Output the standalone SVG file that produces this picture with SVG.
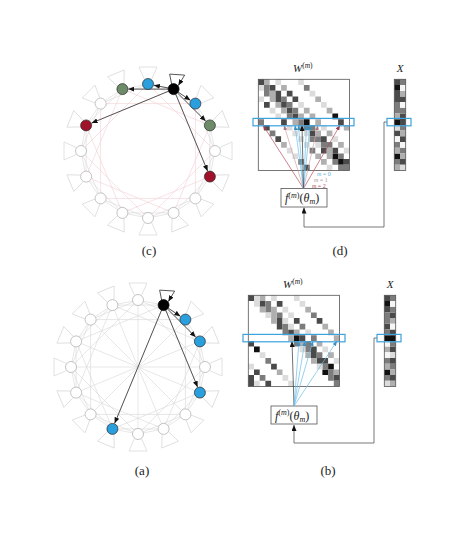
<svg xmlns="http://www.w3.org/2000/svg" width="474" height="540" viewBox="0 0 474 540">
<style>
.lt{fill:none;stroke:#dcdcdc;stroke-width:0.7}
.lp{fill:none;stroke:#f3d6d9;stroke-width:0.7}
.loop{fill:none;stroke:#d2d2d2;stroke-width:0.65;stroke-linejoin:round}
.ng{fill:#fff;stroke:#b5b5b5;stroke-width:0.8}
.nb{fill:#2a9fdd;stroke:#2a2a2a;stroke-width:0.7}
.nG{fill:#6d8a69;stroke:#2a2a2a;stroke-width:0.7}
.nr{fill:#a0122a;stroke:#2a2a2a;stroke-width:0.7}
.nk{fill:#000;stroke:#000;stroke-width:0.7}
.de{fill:none;stroke:#444;stroke-width:0.9;marker-end:url(#ah)}
.k0{fill:#111}.k1{fill:#4a4a4a}.k2{fill:#7c7c7c}.k3{fill:#afafaf}.k4{fill:#dcdcdc}.w{fill:#f6f6f6}
.box{fill:#fff;stroke:#555;stroke-width:0.8}
.mbox{fill:none;stroke:#555;stroke-width:0.8}
.hl{fill:none;stroke:#3aa2dc;stroke-width:1.2}
.cn{fill:none;stroke:#555;stroke-width:0.8;marker-end:url(#ah)}
.fr{fill:none;stroke:#b5505e;stroke-width:0.7;marker-end:url(#ahr)}
.fp{fill:none;stroke:#cfa3a8;stroke-width:0.7;marker-end:url(#ahp)}
.fb{fill:none;stroke:#6cbde6;stroke-width:0.7;marker-end:url(#ahb)}
.fk{fill:none;stroke:#333;stroke-width:0.7;marker-end:url(#ah)}
.t{font-family:"Liberation Serif",serif;fill:#222}
.i{font-style:italic}
</style>
<defs>
<marker id="ah" markerUnits="userSpaceOnUse" markerWidth="6" markerHeight="5" refX="6" refY="2.5" orient="auto"><path d="M0,0 L6,2.5 L0,5 z" fill="#111"/></marker>
<marker id="ahr" markerUnits="userSpaceOnUse" markerWidth="5" markerHeight="4" refX="5" refY="2" orient="auto"><path d="M0,0 L5,2 L0,4 z" fill="#a03a48"/></marker>
<marker id="ahp" markerUnits="userSpaceOnUse" markerWidth="5" markerHeight="4" refX="5" refY="2" orient="auto"><path d="M0,0 L5,2 L0,4 z" fill="#b07880"/></marker>
<marker id="ahb" markerUnits="userSpaceOnUse" markerWidth="5" markerHeight="4" refX="5" refY="2" orient="auto"><path d="M0,0 L5,2 L0,4 z" fill="#3a90c0"/></marker>
<path id="lp0" d="M-3.5,-4.5 L-9,-17 L9,-17 L3.5,-4.5"/>
</defs>
<rect width="474" height="540" fill="#fff"/>

<!-- ===== Graph (c) ===== -->
<g id="graph-c" transform="translate(148,151)">
 <g id="c-connectors">
  <polygon class="lt" points="0,-67 25.6,-61.9 47.4,-47.4 61.9,-25.6 67,0 61.9,25.6 47.4,47.4 25.6,61.9 0,67 -25.6,61.9 -47.4,47.4 -61.9,25.6 -67,0 -61.9,-25.6 -47.4,-47.4 -25.6,-61.9"/>
  <polygon class="lt" points="0,-67 47.4,-47.4 67,0 47.4,47.4 0,67 -47.4,47.4 -67,0 -47.4,-47.4"/>
  <polygon class="lt" points="25.6,-61.9 61.9,-25.6 61.9,25.6 25.6,61.9 -25.6,61.9 -61.9,25.6 -61.9,-25.6 -25.6,-61.9"/>
  <polygon class="lp" points="0,-67 67,0 0,67 -67,0"/>
  <polygon class="lp" points="25.6,-61.9 61.9,25.6 -25.6,61.9 -61.9,-25.6"/>
  <polygon class="lp" points="47.4,-47.4 47.4,47.4 -47.4,47.4 -47.4,-47.4"/>
  <polygon class="lp" points="61.9,-25.6 25.6,61.9 -61.9,25.6 -25.6,-61.9"/>
  <path class="de" d="M20.24,-62.97 L5.89,-65.83"/>
  <path class="de" d="M20.14,-61.9 L-19.64,-61.9"/>
  <path class="de" d="M20.56,-59.8 L-56.36,-27.94"/>
  <path class="de" d="M30.21,-58.84 L42.39,-50.71"/>
  <path class="de" d="M29.53,-58.01 L57.66,-29.88"/>
  <path class="de" d="M27.74,-56.82 L59.6,20.1"/>
  <path class="de" d="M23.64,-67 L21.64,-76.9 L36.64,-75.9 L30.34,-65.5" stroke-linejoin="round"/>
 </g>
 <g id="c-n0"><use href="#lp0" class="loop" transform="translate(0,-67) rotate(0)"/><circle class="nb" cx="0" cy="-67" r="5.5"/></g>
 <g id="c-n1"><circle class="nk" cx="25.6" cy="-61.9" r="5.5"/></g>
 <g id="c-n2"><use href="#lp0" class="loop" transform="translate(47.4,-47.4) rotate(45)"/><circle class="nb" cx="47.4" cy="-47.4" r="5.5"/></g>
 <g id="c-n3"><use href="#lp0" class="loop" transform="translate(61.9,-25.6) rotate(67.5)"/><circle class="nG" cx="61.9" cy="-25.6" r="5.5"/></g>
 <g id="c-n4"><use href="#lp0" class="loop" transform="translate(67,0) rotate(90)"/><circle class="ng" cx="67" cy="0" r="5.5"/></g>
 <g id="c-n5"><use href="#lp0" class="loop" transform="translate(61.9,25.6) rotate(112.5)"/><circle class="nr" cx="61.9" cy="25.6" r="5.5"/></g>
 <g id="c-n6"><use href="#lp0" class="loop" transform="translate(47.4,47.4) rotate(135)"/><circle class="ng" cx="47.4" cy="47.4" r="5.5"/></g>
 <g id="c-n7"><use href="#lp0" class="loop" transform="translate(25.6,61.9) rotate(157.5)"/><circle class="ng" cx="25.6" cy="61.9" r="5.5"/></g>
 <g id="c-n8"><use href="#lp0" class="loop" transform="translate(0,67) rotate(180)"/><circle class="ng" cx="0" cy="67" r="5.5"/></g>
 <g id="c-n9"><use href="#lp0" class="loop" transform="translate(-25.6,61.9) rotate(202.5)"/><circle class="ng" cx="-25.6" cy="61.9" r="5.5"/></g>
 <g id="c-n10"><use href="#lp0" class="loop" transform="translate(-47.4,47.4) rotate(225)"/><circle class="ng" cx="-47.4" cy="47.4" r="5.5"/></g>
 <g id="c-n11"><use href="#lp0" class="loop" transform="translate(-61.9,25.6) rotate(247.5)"/><circle class="ng" cx="-61.9" cy="25.6" r="5.5"/></g>
 <g id="c-n12"><use href="#lp0" class="loop" transform="translate(-67,0) rotate(270)"/><circle class="ng" cx="-67" cy="0" r="5.5"/></g>
 <g id="c-n13"><use href="#lp0" class="loop" transform="translate(-61.9,-25.6) rotate(292.5)"/><circle class="nr" cx="-61.9" cy="-25.6" r="5.5"/></g>
 <g id="c-n14"><use href="#lp0" class="loop" transform="translate(-47.4,-47.4) rotate(315)"/><circle class="ng" cx="-47.4" cy="-47.4" r="5.5"/></g>
 <g id="c-n15"><use href="#lp0" class="loop" transform="translate(-25.6,-61.9) rotate(337.5)"/><circle class="nG" cx="-25.6" cy="-61.9" r="5.5"/></g>
</g>

<!-- ===== Graph (a) ===== -->
<g id="graph-a" transform="translate(138,367)">
 <g id="a-connectors">
  <polygon class="lt" points="0,-67 25.6,-61.9 47.4,-47.4 61.9,-25.6 67,0 61.9,25.6 47.4,47.4 25.6,61.9 0,67 -25.6,61.9 -47.4,47.4 -61.9,25.6 -67,0 -61.9,-25.6 -47.4,-47.4 -25.6,-61.9"/>
  <polygon class="lt" points="0,-67 47.4,-47.4 67,0 47.4,47.4 0,67 -47.4,47.4 -67,0 -47.4,-47.4"/>
  <polygon class="lt" points="25.6,-61.9 61.9,-25.6 61.9,25.6 25.6,61.9 -25.6,61.9 -61.9,25.6 -61.9,-25.6 -25.6,-61.9"/>
  <polygon class="lt" points="0,-67 67,0 0,67 -67,0"/>
  <polygon class="lt" points="25.6,-61.9 61.9,25.6 -25.6,61.9 -61.9,-25.6"/>
  <polygon class="lt" points="47.4,-47.4 47.4,47.4 -47.4,47.4 -47.4,-47.4"/>
  <polygon class="lt" points="61.9,-25.6 25.6,61.9 -61.9,25.6 -25.6,-61.9"/>
  <path class="lt" d="M0,-67 L0,67 M25.6,-61.9 L-25.6,61.9 M47.4,-47.4 L-47.4,47.4 M61.9,-25.6 L-61.9,25.6 M67,0 L-67,0 M61.9,25.6 L-61.9,-25.6 M47.4,47.4 L-47.4,-47.4 M25.6,61.9 L-25.6,-61.9"/>
  <path class="de" d="M30.21,-58.84 L42.39,-50.71"/>
  <path class="de" d="M29.53,-58.01 L57.66,-29.88"/>
  <path class="de" d="M27.74,-56.82 L59.6,20.1"/>
  <path class="de" d="M23.54,-56.82 L-23.34,56.36"/>
  <path class="de" d="M23.64,-67 L21.64,-76.9 L36.64,-75.9 L30.34,-65.5" stroke-linejoin="round"/>
 </g>
 <g id="a-n0"><use href="#lp0" class="loop" transform="translate(0,-67) rotate(0)"/><circle class="ng" cx="0" cy="-67" r="5.5"/></g>
 <g id="a-n1"><circle class="nk" cx="25.6" cy="-61.9" r="5.5"/></g>
 <g id="a-n2"><use href="#lp0" class="loop" transform="translate(47.4,-47.4) rotate(45)"/><circle class="nb" cx="47.4" cy="-47.4" r="5.5"/></g>
 <g id="a-n3"><use href="#lp0" class="loop" transform="translate(61.9,-25.6) rotate(67.5)"/><circle class="nb" cx="61.9" cy="-25.6" r="5.5"/></g>
 <g id="a-n4"><use href="#lp0" class="loop" transform="translate(67,0) rotate(90)"/><circle class="ng" cx="67" cy="0" r="5.5"/></g>
 <g id="a-n5"><use href="#lp0" class="loop" transform="translate(61.9,25.6) rotate(112.5)"/><circle class="nb" cx="61.9" cy="25.6" r="5.5"/></g>
 <g id="a-n6"><use href="#lp0" class="loop" transform="translate(47.4,47.4) rotate(135)"/><circle class="ng" cx="47.4" cy="47.4" r="5.5"/></g>
 <g id="a-n7"><use href="#lp0" class="loop" transform="translate(25.6,61.9) rotate(157.5)"/><circle class="ng" cx="25.6" cy="61.9" r="5.5"/></g>
 <g id="a-n8"><use href="#lp0" class="loop" transform="translate(0,67) rotate(180)"/><circle class="ng" cx="0" cy="67" r="5.5"/></g>
 <g id="a-n9"><use href="#lp0" class="loop" transform="translate(-25.6,61.9) rotate(202.5)"/><circle class="nb" cx="-25.6" cy="61.9" r="5.5"/></g>
 <g id="a-n10"><use href="#lp0" class="loop" transform="translate(-47.4,47.4) rotate(225)"/><circle class="ng" cx="-47.4" cy="47.4" r="5.5"/></g>
 <g id="a-n11"><use href="#lp0" class="loop" transform="translate(-61.9,25.6) rotate(247.5)"/><circle class="ng" cx="-61.9" cy="25.6" r="5.5"/></g>
 <g id="a-n12"><use href="#lp0" class="loop" transform="translate(-67,0) rotate(270)"/><circle class="ng" cx="-67" cy="0" r="5.5"/></g>
 <g id="a-n13"><use href="#lp0" class="loop" transform="translate(-61.9,-25.6) rotate(292.5)"/><circle class="ng" cx="-61.9" cy="-25.6" r="5.5"/></g>
 <g id="a-n14"><use href="#lp0" class="loop" transform="translate(-47.4,-47.4) rotate(315)"/><circle class="ng" cx="-47.4" cy="-47.4" r="5.5"/></g>
 <g id="a-n15"><use href="#lp0" class="loop" transform="translate(-25.6,-61.9) rotate(337.5)"/><circle class="ng" cx="-25.6" cy="-61.9" r="5.5"/></g>
</g>

<!-- ===== Matrix (d) ===== -->
<g id="matrix-d">
 <g transform="translate(258.3,79.3) scale(5.7)">
  <path class="k0" d="M13 6h1v1h-1z M8 7h1v1h-1z M13 13h1v1h-1z M14 14h1v1h-1z"/>
  <path class="k1" d="M0 0h1v1h-1z M2 1h1v1h-1z M3 2h1v1h-1z M5 2h1v1h-1z M3 3h1v1h-1z M6 3h1v1h-1z M1 4h1v1h-1z M4 4h1v1h-1z M5 5h1v1h-1z M6 6h1v1h-1z M4 7h1v1h-1z M14 7h1v1h-1z M1 8h1v1h-1z M9 9h1v1h-1z M3 10h1v1h-1z M11 10h1v1h-1z M11 12h1v1h-1z M13 12h1v1h-1z M15 14h1v1h-1z M8 15h1v1h-1z"/>
  <path class="k2" d="M1 1h1v1h-1z M8 1h1v1h-1z M1 2h1v1h-1z M4 3h1v1h-1z M5 4h1v1h-1z M6 5h1v1h-1z M5 6h1v1h-1z M0 7h1v1h-1z M7 7h1v1h-1z M8 8h1v1h-1z M9 8h1v1h-1z M2 9h1v1h-1z M9 10h1v1h-1z M10 10h1v1h-1z M11 11h1v1h-1z M12 11h1v1h-1z M9 12h1v1h-1z M14 13h1v1h-1z M7 14h1v1h-1z M13 14h1v1h-1z M14 15h1v1h-1z M15 15h1v1h-1z"/>
  <path class="k3" d="M1 0h1v1h-1z M4 1h1v1h-1z M2 2h1v1h-1z M2 3h1v1h-1z M10 3h1v1h-1z M3 4h1v1h-1z M4 5h1v1h-1z M8 5h1v1h-1z M12 5h1v1h-1z M7 6h1v1h-1z M9 6h1v1h-1z M6 7h1v1h-1z M10 7h1v1h-1z M7 8h1v1h-1z M15 8h1v1h-1z M10 9h1v1h-1z M12 9h1v1h-1z M4 11h1v1h-1z M14 11h1v1h-1z M12 12h1v1h-1z M10 13h1v1h-1z M12 13h1v1h-1z M11 14h1v1h-1z"/>
  <path class="k4" d="M3 0h1v1h-1z M7 0h1v1h-1z M0 1h1v1h-1z M9 2h1v1h-1z M0 3h1v1h-1z M7 4h1v1h-1z M11 4h1v1h-1z M2 5h1v1h-1z M3 6h1v1h-1z M5 8h1v1h-1z M11 8h1v1h-1z M6 9h1v1h-1z M8 9h1v1h-1z M7 10h1v1h-1z M13 10h1v1h-1z M8 11h1v1h-1z M10 11h1v1h-1z M5 12h1v1h-1z M15 12h1v1h-1z M6 13h1v1h-1z M12 15h1v1h-1z"/>
 </g>
 <rect class="mbox" x="258.3" y="79.3" width="91.2" height="91.2"/>
 <text class="t" x="293" y="72" font-size="11"><tspan class="i">W</tspan><tspan font-size="7.5" dy="-4">(<tspan class="i">m</tspan>)</tspan></text>
</g>
<g id="vector-d">
 <g transform="translate(394.3,79.3) scale(5.7)">
  <path class="k0" d="M0 1h1v1h-1z M0 7h1v1h-1z M0 13h1v1h-1z"/>
  <path class="k1" d="M0 0h1v1h-1z M0 2h1v1h-1z M0 3h1v1h-1z M1 3h1v1h-1z M1 6h1v1h-1z M1 7h1v1h-1z M0 9h1v1h-1z M1 10h1v1h-1z M1 14h1v1h-1z"/>
  <path class="k2" d="M1 0h1v1h-1z M0 4h1v1h-1z M0 5h1v1h-1z M1 5h1v1h-1z M1 8h1v1h-1z M0 11h1v1h-1z M1 12h1v1h-1z M0 14h1v1h-1z"/>
  <path class="k3" d="M1 2h1v1h-1z M0 6h1v1h-1z M1 9h1v1h-1z M0 12h1v1h-1z M1 13h1v1h-1z M0 15h1v1h-1z"/>
  <path class="k4" d="M0 8h1v1h-1z M1 15h1v1h-1z"/>
  <path class="w" d="M1 1h1v1h-1z M1 4h1v1h-1z M0 10h1v1h-1z M1 11h1v1h-1z"/>
 </g>
 <rect class="mbox" x="394.3" y="79.3" width="11.4" height="91.2" stroke-width="0.6"/>
 <text class="t i" x="400" y="72" font-size="11" text-anchor="middle">X</text>
</g>
<g id="f-d">
 <rect class="box" x="281" y="188.5" width="46" height="18.5"/>
 <text class="t" x="285" y="202" font-size="12"><tspan class="i">f</tspan><tspan font-size="8" dy="-4.5">(<tspan class="i">m</tspan>)</tspan><tspan dy="4.5">(</tspan><tspan class="i">θ</tspan><tspan class="i" font-size="8" dy="2">m</tspan><tspan dy="-2">)</tspan></text>
</g>
<g id="connectors-d">
 <path class="fr" d="M303.5,188.5 L263,125.2"/>
 <path class="fr" d="M303.5,188.5 L340,125.2"/>
 <path class="fp" d="M303.5,188.5 L284,125.2"/>
 <path class="fp" d="M303.5,188.5 L318,125.2"/>
 <path class="fb" d="M303.5,188.5 L295,125.2"/>
 <path class="fb" d="M303.5,188.5 L298.5,125.2"/>
 <path class="fb" d="M303.5,188.5 L306.5,125.2"/>
 <path class="fb" d="M303.5,188.5 L310,125.2"/>
 <path class="fk" d="M303.5,188.5 L302,125.2"/>
 <path class="cn" d="M387,122 H384 V227 H304 V207.5"/>
 <rect class="hl" x="253" y="118.4" width="101" height="7.4"/>
 <rect class="hl" x="387" y="118.4" width="24" height="7.4"/>
 <text class="t" x="317" y="175.5" font-size="6" style="fill:#5ab0d8"><tspan class="i">m</tspan> = 0</text>
 <text class="t" x="314" y="181.8" font-size="6" style="fill:#a89498"><tspan class="i">m</tspan> = 1</text>
 <text class="t" x="312" y="188" font-size="6" style="fill:#b04a58"><tspan class="i">m</tspan> = 2</text>
</g>

<!-- ===== Matrix (b) ===== -->
<g id="matrix-b">
 <g transform="translate(248.3,295.3) scale(5.7)">
  <path class="k0" d="M8 7h1v1h-1z M1 9h1v1h-1z M14 12h1v1h-1z M13 13h1v1h-1z"/>
  <path class="k1" d="M0 0h1v1h-1z M2 1h1v1h-1z M5 1h1v1h-1z M5 4h1v1h-1z M8 4h1v1h-1z M12 4h1v1h-1z M5 5h1v1h-1z M7 6h1v1h-1z M9 7h1v1h-1z M0 8h1v1h-1z M11 9h1v1h-1z M11 10h1v1h-1z M12 11h1v1h-1z M13 11h1v1h-1z M4 12h1v1h-1z M1 13h1v1h-1z M0 14h1v1h-1z M15 14h1v1h-1z M0 15h1v1h-1z M3 15h1v1h-1z"/>
  <path class="k2" d="M3 1h1v1h-1z M3 2h1v1h-1z M5 3h1v1h-1z M11 3h1v1h-1z M6 5h1v1h-1z M9 5h1v1h-1z M6 6h1v1h-1z M11 7h1v1h-1z M8 8h1v1h-1z M10 8h1v1h-1z M10 9h1v1h-1z M12 10h1v1h-1z M3 11h1v1h-1z M13 12h1v1h-1z M14 13h1v1h-1z M2 14h1v1h-1z M14 14h1v1h-1z M15 15h1v1h-1z"/>
  <path class="k3" d="M2 0h1v1h-1z M2 2h1v1h-1z M4 2h1v1h-1z M10 2h1v1h-1z M4 3h1v1h-1z M4 4h1v1h-1z M13 5h1v1h-1z M8 6h1v1h-1z M14 6h1v1h-1z M7 7h1v1h-1z M15 7h1v1h-1z M9 8h1v1h-1z M12 8h1v1h-1z M10 10h1v1h-1z M14 10h1v1h-1z M11 11h1v1h-1z M5 13h1v1h-1z M15 13h1v1h-1z"/>
  <path class="k4" d="M1 0h1v1h-1z M4 0h1v1h-1z M8 0h1v1h-1z M1 1h1v1h-1z M9 1h1v1h-1z M6 2h1v1h-1z M3 3h1v1h-1z M7 3h1v1h-1z M6 4h1v1h-1z M7 5h1v1h-1z M10 6h1v1h-1z M9 9h1v1h-1z M13 9h1v1h-1z M2 10h1v1h-1z M15 11h1v1h-1z M0 12h1v1h-1z M12 12h1v1h-1z M6 14h1v1h-1z M1 15h1v1h-1z M7 15h1v1h-1z"/>
 </g>
 <rect class="mbox" x="248.3" y="295.3" width="91.2" height="91.2"/>
 <text class="t" x="283" y="288" font-size="11"><tspan class="i">W</tspan><tspan font-size="7.5" dy="-4">(<tspan class="i">m</tspan>)</tspan></text>
</g>
<g id="vector-b">
 <g transform="translate(384.3,295.3) scale(5.7)">
  <path class="k0" d="M0 1h1v1h-1z M0 7h1v1h-1z M1 7h1v1h-1z M0 13h1v1h-1z"/>
  <path class="k1" d="M0 0h1v1h-1z M0 2h1v1h-1z M1 3h1v1h-1z M0 5h1v1h-1z M1 6h1v1h-1z M1 9h1v1h-1z M1 11h1v1h-1z M1 14h1v1h-1z"/>
  <path class="k2" d="M1 0h1v1h-1z M1 2h1v1h-1z M0 3h1v1h-1z M0 4h1v1h-1z M0 6h1v1h-1z M1 8h1v1h-1z M0 11h1v1h-1z M1 12h1v1h-1z M0 14h1v1h-1z"/>
  <path class="k3" d="M1 4h1v1h-1z M0 9h1v1h-1z M0 12h1v1h-1z M1 13h1v1h-1z M1 15h1v1h-1z"/>
  <path class="k4" d="M1 10h1v1h-1z M0 15h1v1h-1z"/>
  <path class="w" d="M1 1h1v1h-1z M1 5h1v1h-1z M0 8h1v1h-1z M0 10h1v1h-1z"/>
 </g>
 <rect class="mbox" x="384.3" y="295.3" width="11.4" height="91.2" stroke-width="0.6"/>
 <text class="t i" x="390" y="288" font-size="11" text-anchor="middle">X</text>
</g>
<g id="f-b">
 <rect class="box" x="271" y="406" width="46" height="18"/>
 <text class="t" x="275" y="419.5" font-size="12"><tspan class="i">f</tspan><tspan font-size="8" dy="-4.5">(<tspan class="i">m</tspan>)</tspan><tspan dy="4.5">(</tspan><tspan class="i">θ</tspan><tspan class="i" font-size="8" dy="2">m</tspan><tspan dy="-2">)</tspan></text>
</g>
<g id="connectors-b">
 <path class="fk" d="M294,406 L292,341"/>
 <path class="fb" d="M294,406 L299,341"/>
 <path class="fb" d="M294,406 L305,341"/>
 <path class="fb" d="M294,406 L313,341"/>
 <path class="fb" d="M294,406 L337,341"/>
 <path class="cn" d="M377,338 H374 V443 H294 V425"/>
 <rect class="hl" x="243" y="334.4" width="102" height="7.4"/>
 <rect class="hl" x="377" y="334.4" width="24" height="7.4"/>
</g>

<!-- captions -->
<g id="captions">
 <text class="t" x="149" y="255" font-size="13" text-anchor="middle">(c)</text>
 <text class="t" x="340" y="255" font-size="13" text-anchor="middle">(d)</text>
 <text class="t" x="142" y="475" font-size="13" text-anchor="middle">(a)</text>
 <text class="t" x="328" y="475" font-size="13" text-anchor="middle">(b)</text>
</g>
</svg>
